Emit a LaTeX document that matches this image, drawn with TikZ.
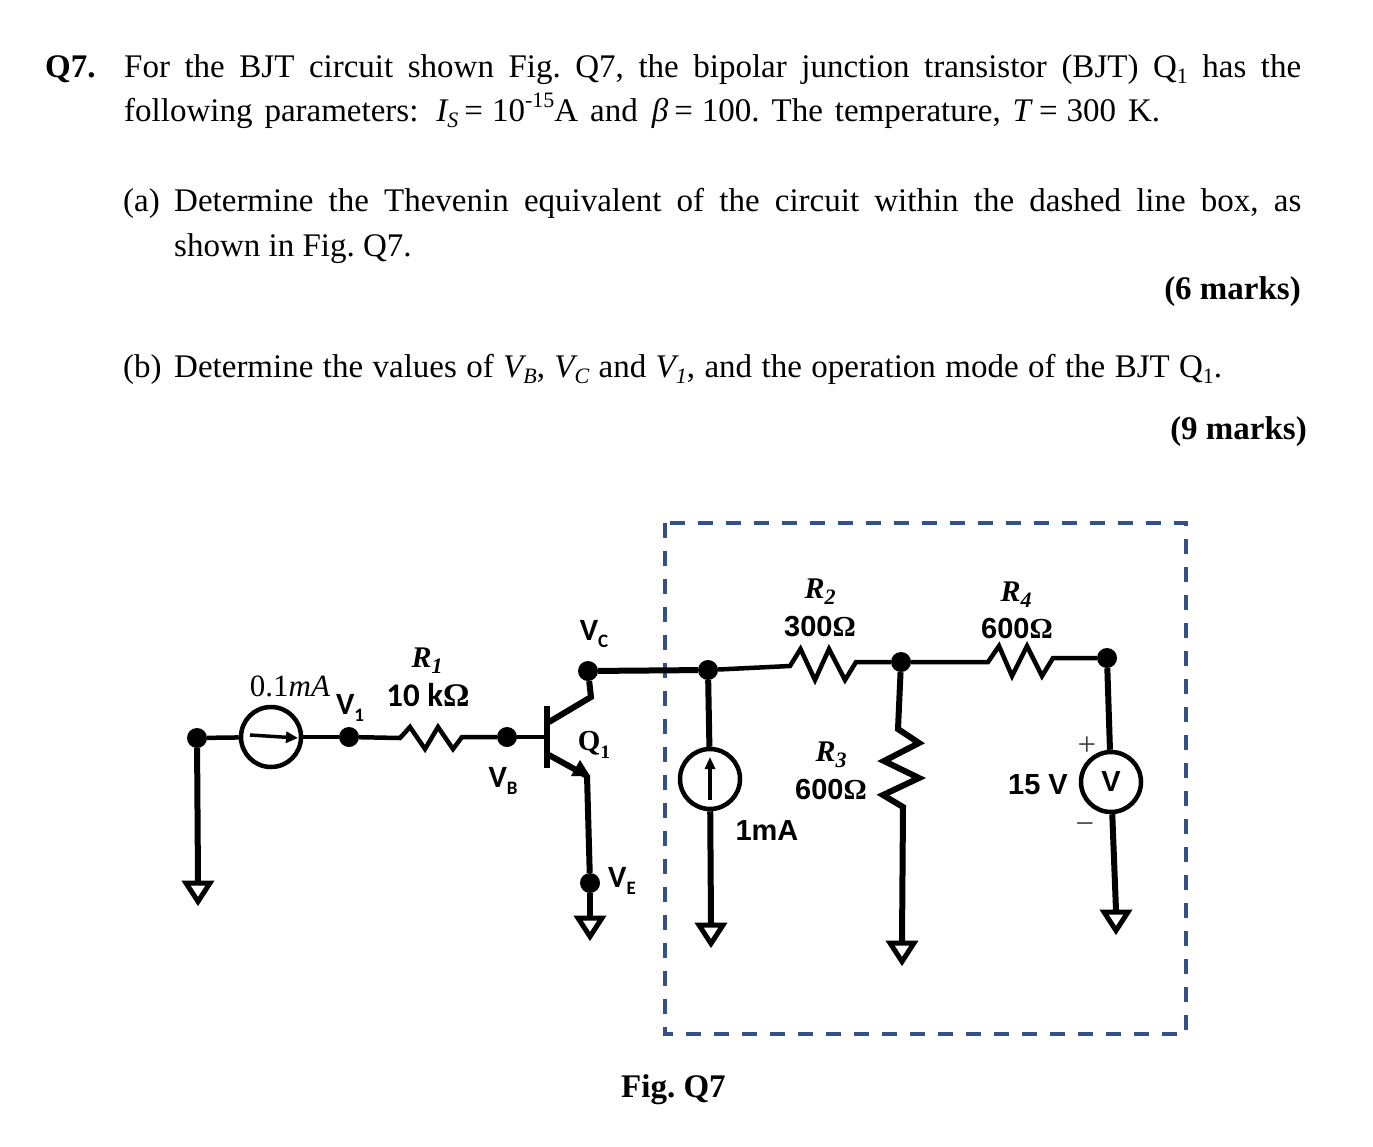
\documentclass[tikz,border=0pt]{standalone}
\usepackage{fontspec}
\setmainfont{Liberation Serif}
\newfontfamily\lblfont{Carlito}
\newfontfamily\arlfont{Liberation Sans}
\usetikzlibrary{arrows.meta}
\newcommand{\lowr}[1]{\raisebox{-0.2em}{\fontsize{22}{22}\selectfont #1}}
\newcommand{\lowl}[1]{\raisebox{-0.25em}{\fontsize{19}{22}\selectfont #1}}
\newcommand{\uppr}[1]{\raisebox{0.42em}{\fontsize{22}{22}\selectfont #1}}
\newcommand{\jline}[2]{\makebox[#1pt][s]{\frenchspacing #2}}
\newcommand{\omg}{{\rmfamily\bfseries Ω}}
\newcommand{\eqs}{\hspace{6pt}=\hspace{9pt}}
\tikzset{
  txt/.style={anchor=base west,inner sep=0pt,font=\fontsize{33}{40}\selectfont\frenchspacing},
  txtr/.style={anchor=base east,inner sep=0pt,font=\fontsize{33}{40}\selectfont\bfseries\frenchspacing},
  lbl/.style={inner sep=0pt,font=\fontsize{33}{36}\selectfont\lblfont\bfseries},
  lbla/.style={inner sep=0pt,font=\fontsize{29}{36}\selectfont\arlfont\bfseries},
  lblv/.style={inner sep=0pt,font=\fontsize{31}{36}\selectfont\lblfont\bfseries},
  rname/.style={inner sep=0pt,font=\fontsize{30}{36}\selectfont\bfseries\itshape},
  signs/.style={inner sep=0pt,font=\fontsize{33}{36}\selectfont,color=black!75},
  junction/.style={circle,fill=black,draw=none,inner sep=0pt,minimum size=20pt},
  srcbox/.style={circle,draw=black,line width=4.5pt,fill=none,inner sep=0pt,minimum size=60pt},
  wire/.style={line width=4.5pt,line join=miter,black},
  thick wire/.style={line width=6pt,black},
  res/.style={line width=4.5pt,line join=miter,black},
  dashbox/.style={line width=3.8pt,color=boxblue,dash pattern=on 15pt off 13pt},
  gnd/.pic={\draw[line width=5pt,line join=miter] (-12,2) -- (12,2) -- (0,20.5) -- cycle;},
}
\definecolor{boxblue}{HTML}{34508A}
\begin{document}
\begin{tikzpicture}[x=1pt,y=-1pt]
\useasboundingbox (0,0) rectangle (1373,1146);
% question text
\node[txt,font=\fontsize{33}{40}\selectfont\bfseries] (q) at (45,77) {Q7.};
\node[txt] (l1) at (124,77) {\jline{1177}{For the BJT circuit shown Fig. Q7, the bipolar junction transistor (BJT) Q\lowr{1} has the}};
\node[txt] (l2) at (124,121) {\jline{1036}{following parameters:\hspace{18pt}\textit{I\lowr{S}}\eqs 10\uppr{-15}A and\hspace{14pt}\textit{β}\eqs 100. The temperature, \textit{T}\eqs 300 K.}};
\node[txt] (pa) at (123,211) {(a)};
\node[txt] (l3) at (174,211) {\jline{1127}{Determine the Thevenin equivalent of the circuit within the dashed line box, as}};
\node[txt] (l4) at (174,256) {shown in Fig. Q7.};
\node[txtr] (m6) at (1301,299) {(6 marks)};
\node[txt] (pb) at (123,377) {(b)};
\node[txt] (l5) at (174,377) {\jline{1048}{Determine the values of \textit{V\lowr{B}}, \textit{V\lowr{C}} and \textit{V\lowr{1}}, and the operation mode of the BJT Q\lowr{1}.}};
\node[txtr] (m9) at (1307,439) {(9 marks)};
\node[txt,font=\fontsize{33}{40}\selectfont\bfseries\frenchspacing] (fig) at (621,1097) {Fig. Q7};
% dashed box
\draw[dashbox] (665,523) rectangle (1186,1034);
% nodes
\node[junction] (n0) at (197,738) {};
\node[srcbox] (cs1) at (271,737) {};
\node[junction] (v1) at (349,737) {};
\node[junction] (vb) at (507,737) {};
\node[junction] (vc) at (588,671) {};
\node[junction] (ve) at (590,883) {};
\node[junction] (a) at (708,670) {};
\node[junction] (b) at (901,662) {};
\node[junction] (c) at (1107,658) {};
\node[srcbox] (cs2) at (710,779) {};
\node[srcbox] (vs) at (1111,782) {\raisebox{-3pt}{\fontsize{29}{30}\selectfont\arlfont\bfseries V}};
% ground points
\coordinate (g0) at (198,881);
\coordinate (g1) at (590,916);
\coordinate (g2) at (711,923);
\coordinate (g3) at (902,941);
\coordinate (g4) at (1116,910);
\foreach \g in {g0,g1,g2,g3,g4} \pic at (\g) {gnd};
% R1
\coordinate (r1a) at (400,738);
\coordinate (r1b) at (462,737);
\draw[res] (v1) -- (r1a) -- (410,727) -- (425,749) -- (438,727) -- (453,749) -- (r1b) -- (vb);
% R2
\coordinate (r2a) at (790,666);
\coordinate (r2b) at (856,662);
\draw[res] (a) -- (r2a) -- (800.5,649) -- (815,680) -- (829,649) -- (845,680) -- (r2b) -- (b);
% R4
\coordinate (r4a) at (988,662);
\coordinate (r4b) at (1053,658);
\draw[res] (b) -- (r4a) -- (999,646) -- (1012,676) -- (1027,646) -- (1042,676) -- (r4b) -- (c);
% R3
\coordinate (r3a) at (898,729);
\coordinate (r3b) at (903,807);
\draw[thick wire,line join=miter] (b) -- (r3a) -- (919,743) -- (884,761) -- (919,778) -- (883,795) -- (r3b) -- (g3);
% wires
\draw[wire] (n0) -- (cs1);
\draw[wire] (cs1) -- (v1);
\draw[thick wire] (n0) -- (g0);
\draw[thick wire] (vc) -- (a);
\draw[thick wire] (a) -- (cs2);
\draw[thick wire] (cs2) -- (g2);
\draw[thick wire] (c) -- (vs);
\draw[thick wire] (vs) -- (g4);
% source arrows
\coordinate (ar1a) at (250,735);
\coordinate (ar1b) at (298,738);
\draw[line width=3.5pt,-{Triangle[length=12pt,width=11pt]}] (ar1a) -- (ar1b);
\coordinate (ar2a) at (710,800);
\coordinate (ar2b) at (710,757);
\draw[line width=3.5pt,-{Triangle[length=12pt,width=10pt]}] (ar2a) -- (ar2b);
% BJT
\coordinate (bjtb) at (547,737);
\coordinate (ctop) at (591,697);
\coordinate (cst) at (549,722);
\coordinate (est) at (549,755);
\coordinate (etip) at (587,776);
\draw[wire] (vb) -- (bjtb);
\draw[line width=6.5pt] (547,706) -- (547,768);
\draw[thick wire,line join=miter] (cst) -- (ctop) -- (vc);
\draw[thick wire] (est) -- (etip);
\path[fill=black] (590,776) -- (580,760) -- (571,776) -- cycle;
\draw[thick wire] (587,775) -- (ve);
\draw[thick wire] (ve) -- (g1);
% labels
\node[rname] (tr1) at (427,661) {R\lowr{1}};
\node[lbl] (t10k) at (428,695) {10 k\omg};
\node[inner sep=0pt,font=\fontsize{31}{36}\selectfont] (t01) at (290,686) {0.1\textit{mA}};
\node[lblv] (tv1) at (350,708) {V\lowl{1}};
\node[lblv] (tvb) at (503,781) {V\lowl{B}};
\node[lblv] (tvc) at (594,634) {V\lowl{C}};
\node[lblv] (tve) at (622,881) {V\lowl{E}};
\node[inner sep=0pt,font=\fontsize{29}{36}\selectfont\bfseries] (tq) at (594,745) {Q\lowl{1}};
\node[rname] (tr2) at (820,592) {R\lowr{2}};
\node[lbla] (t300) at (820,627) {300\omg};
\node[rname] (tr4) at (1016,595) {R\lowr{4}};
\node[lbla] (t604) at (1017,629) {600\omg};
\node[rname] (tr3) at (831,755) {R\lowr{3}};
\node[lbla] (t603) at (831,790) {600\omg};
\node[lbla] (t15) at (1038,785) {15 V};
\node[lbla] (t1ma) at (767,831) {1mA};
\node[signs] (tp) at (1087,746) {+};
\node[signs] (tm) at (1085,829) {−};
\end{tikzpicture}
\end{document}
